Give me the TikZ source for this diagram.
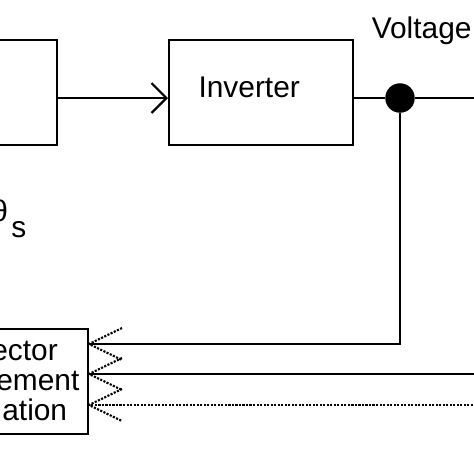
\documentclass[tikz,border=0pt]{standalone}
\usepackage{fontspec}
\setmainfont{Liberation Sans}
\usetikzlibrary{arrows.meta}
\tikzset{
  block/.style={draw,line width=1.3pt,minimum height=2.1cm,inner sep=0pt},
  wire/.style={line width=1.3pt},
  dotline/.style={line width=1.2pt,dash pattern=on 1.2pt off 0.8pt},
  lbl/.style={inner sep=0pt,font=\fontsize{17}{20.4}\selectfont}
}

\begin{document}
\begin{tikzpicture}[x=0.02cm,y=-0.02cm]
\useasboundingbox (0,0) rectangle (474,474);
\clip (0,0) rectangle (474,474);
% blocks
\node[block,minimum width=3cm,anchor=north east] (ctrl) at (58,39) {};
\node[block,minimum width=3.68cm,anchor=north west] (inv) at (168,39) {};
\node[block,minimum width=3cm,anchor=north east] (meas) at (89,328) {};
\node[circle,fill,inner sep=0pt,minimum size=0.59cm] (jn) at (400,98) {};
% texts
\node[lbl,anchor=base west] (invtxt) at (198.2,97.8) {Inverter};
\node[lbl,anchor=base west] (volt) at (371.5,38) {Voltage};
\node[lbl,anchor=base west] (theta) at (-9,221) {θ\hspace{2pt}\raisebox{-9.4pt}{s}};
\node[lbl,anchor=base west] (m1) at (-9,360) {ector};
\node[lbl,anchor=base west] (m2) at (-4,390) {ement};
\node[lbl,anchor=base west] (m3) at (2,420) {ation};
% wires
\coordinate (outV) at (480,98);
\coordinate (fb) at (400,344);
\coordinate (outI) at (480,374);
\coordinate (outT) at (480,405);
\draw[wire,-{Straight Barb[length=8.5pt,width=17pt]}] (ctrl.east |- jn) -- (inv.west |- jn);
\draw[wire] (inv.east |- jn) -- (jn) -- (outV);
\draw[wire] (jn) -- (fb) -- (meas.east |- fb);
\draw[wire] (outI) -- (meas.east |- outI);
\draw[dotline] (outT) -- (meas.east |- outT);
% dotted barbs
\foreach \c in {fb,outI,outT}
  \draw[dotline] (meas.east |- \c) ++(33,-16) -- ++(-33,16) -- ++(33,16);
\end{tikzpicture}
\end{document}
